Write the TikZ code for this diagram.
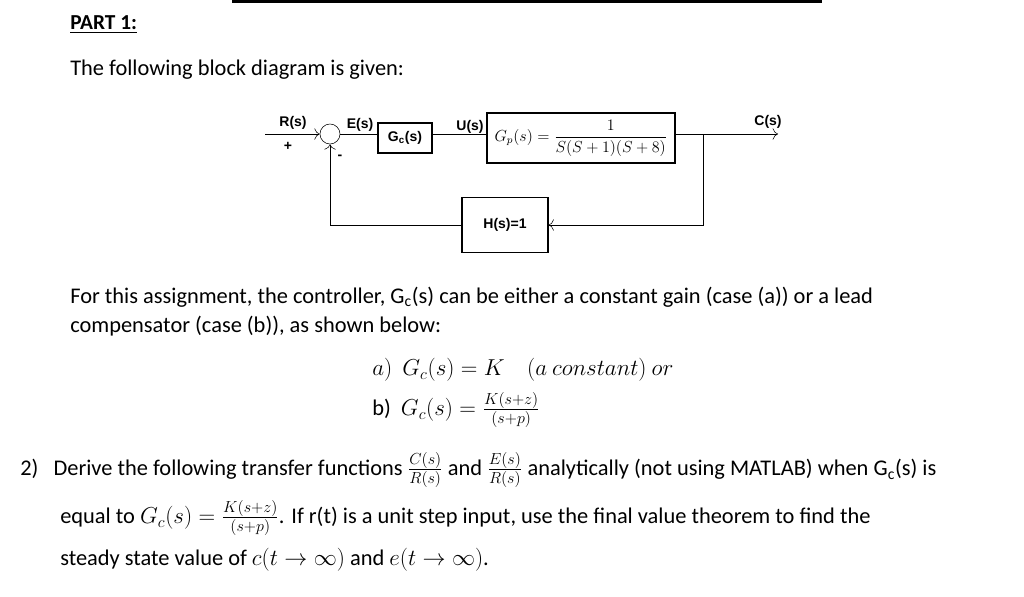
\documentclass[tikz,border=0pt]{standalone}
\usepackage{amsmath}
\usepackage{fontspec}
\setmainfont{Carlito}
\newfontfamily\arialf{Liberation Sans}
\usetikzlibrary{arrows.meta}
\begin{document}
\begin{tikzpicture}[x=0.75pt,y=-0.75pt,
  blk/.style={draw,thick,minimum height=0pt,inner sep=0pt},
  sig/.style={thin,-{To[length=4pt]}},
  lbl/.style={font=\arialf\bfseries\fontsize{10.5}{12}\selectfont,inner sep=0pt},
  txt/.style={anchor=west,inner sep=0pt,font=\fontsize{16.8}{20}\selectfont}]
\useasboundingbox (0,0) rectangle (1024,596);
\fill (232,0) rectangle (822,3);
\node[txt,font=\fontsize{16}{20}\selectfont\bfseries] (p1) at (70,25) {\underline{PART 1:}};
\node[txt] (t1) at (70,70) {The following block diagram is given:};
% diagram
\coordinate (rin) at (265,134);
\node[draw,circle,minimum size=20pt*0.75,inner sep=0pt] (sum) at (330,134) {};
\node[blk,minimum width=54*0.75pt,minimum height=30*0.75pt,font=\arialf\bfseries\fontsize{10.5}{12}\selectfont] (gc) at (405,138) {G\textsubscript{c}(s)};
\node[blk,minimum width=188*0.75pt,minimum height=50*0.75pt,font=\fontsize{11.5}{13}\selectfont] (gp) at (581,138) {$G_p(s)=\dfrac{1}{S(S+1)(S+8)}$};
\node[blk,minimum width=86*0.75pt,minimum height=55*0.75pt,font=\arialf\bfseries\fontsize{10.5}{12}\selectfont] (h) at (505,225) {H(s)=1};
\coordinate (tk) at (703,134);
\coordinate (cout) at (778,134);
\draw[sig] (rin) -- (sum);
\draw (sum) -- (gc.west|-sum);
\draw (gc.east|-sum) -- (gp.west|-sum);
\draw (gp.east|-sum) -- (tk);
\draw[sig] (tk) -- (cout);
\draw[sig] (tk) |- (h.east);
\draw[sig] (h.west) -| (sum.south);
\node[lbl] (lr) at (293,123) {R(s)};
\node[lbl] (lp) at (288,146) {+};
\node[lbl] (le) at (360,125) {E(s)};
\node[lbl] (lu) at (470,127) {U(s)};
\node[lbl] (lc) at (768,122) {C(s)};
\node[lbl] (lm) at (340,157) {-};
% text
\node[txt] (t2) at (70,297) {For this assignment, the controller, G\textsubscript{c}(s) can be either a constant gain (case (a)) or a lead};
\node[txt] (t3) at (70,326) {compensator (case (b)), as shown below:};
\node[txt] (ea) at (372,370) {$a)\ \ G_c(s)=K\quad(a\ constant)\ or$};
\node[txt] (eb) at (372,410) {b)\ \ $G_c(s)=\frac{K(s+z)}{(s+p)}$};
\node[txt] (q1) at (20,470) {2)\ \ \ Derive the following transfer functions $\frac{C(s)}{R(s)}$ and $\frac{E(s)}{R(s)}$ analytically (not using MATLAB) when G\textsubscript{c}(s) is};
\node[txt] (q2) at (60,518) {equal to $G_c(s)=\frac{K(s+z)}{(s+p)}$. If r(t) is a unit step input, use the final value theorem to find the};
\node[txt] (q3) at (60,560) {steady state value of $c(t\to\infty)$ and $e(t\to\infty)$.};
\end{tikzpicture}
\end{document}
